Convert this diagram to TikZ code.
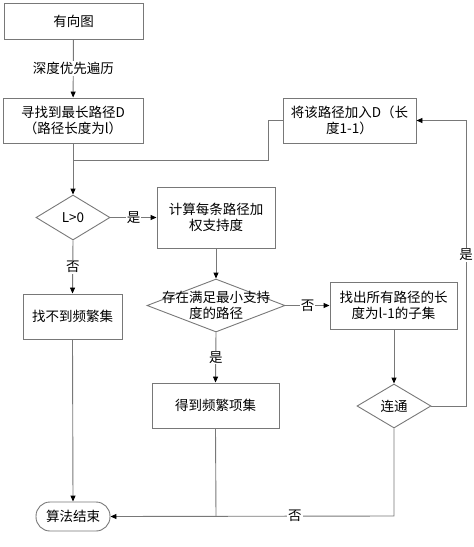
\documentclass[tikz,border=0pt]{standalone}
\usepackage{fontspec}
\newfontfamily\cjk{Noto Sans CJK SC}
\usetikzlibrary{shapes.geometric,arrows.meta}
\definecolor{linecol}{RGB}{120,120,120}
\tikzset{
  every node/.style={font=\cjk\fontsize{13.5}{16}\selectfont},
  box/.style={draw=linecol, line width=0.9pt, rectangle, align=center, inner sep=2pt},
  dia/.style={draw=linecol, line width=0.9pt, diamond, inner sep=0pt},
  endbox/.style={draw=linecol, line width=0.9pt, rectangle, rounded corners=14pt, align=center},
  conn/.style={draw=linecol, line width=0.9pt},
  arr/.style={conn, -{Triangle[length=6pt,width=5pt,color=black]}},
  lab/.style={fill=white, inner sep=1pt}
}
\begin{document}
\begin{tikzpicture}[x=1pt,y=-1pt]
\useasboundingbox (0,0) rectangle (474,547);
\node[box, minimum width=139pt, minimum height=36pt] (n1) at (73.5,21) {有向图};
\node[box, minimum width=140pt, minimum height=45pt] (n2) at (73,120.5) {寻找到最长路径D\\（路径长度为l）};
\node[box, minimum width=133pt, minimum height=45pt] (n3) at (349.5,120.5) {将该路径加入D（长\\度1-1）};
\node[dia, minimum width=74pt, minimum height=45pt] (d1) at (73,217.5) {};
\node at (d1.center) (d1t) {L>0};
\node[box, minimum width=118pt, minimum height=61pt] (c1) at (216,217.5) {计算每条路径加\\权支持度};
\node[dia, minimum width=138pt, minimum height=53pt] (d2) at (216,305.5) {};
\node[align=center] at (d2.center) (d2t) {存在满足最小支持\\度的路径};
\node[box, minimum width=127pt, minimum height=47pt] (b5) at (393.5,305.5) {找出所有路径的长\\度为l-1的子集};
\node[box, minimum width=99pt, minimum height=45pt] (b6) at (72.5,316.5) {找不到频繁集};
\node[box, minimum width=127pt, minimum height=45pt] (b7) at (215.5,405.5) {得到频繁项集};
\node[dia, minimum width=74pt, minimum height=44pt] (d3) at (394,406) {};
\node at (d3.center) (d3t) {连通};
\node[endbox, minimum width=74pt, minimum height=29pt] (e) at (73,516.5) {算法结束};

\coordinate (j1) at (73,160);
\coordinate (j2) at (216,516);

\draw[arr] (n1) -- node[lab] {深度优先遍历} (n2);
\draw[arr] (n2) -- (d1);
\draw[conn] (n3.west) -- ++(-14,0) |- (j1);
\draw[arr] (d1.east) -- node[lab] {是} (c1.west);
\draw[arr] (d1.south) -- node[lab] {否} (b6.north);
\draw[arr] (c1.south) -- (d2.north);
\draw[arr] (d2.east) -- node[lab] {否} (b5.west);
\draw[arr] (d2.south) -- node[lab] {是} (b7.north);
\draw[arr] (b5.south -| d3.north) -- (d3.north);
\draw[arr] (d3.east) -- (466,406) -- node[lab, pos=0.53] {是} (466,120.5) -- (n3.east);
\draw[arr] (d3.south) -- (394,516) -- node[lab, pos=0.35] {否} (e.east);
\draw[conn] (b7.south) -- (j2);
\draw[arr] (b6.south) -- (e.north);
\end{tikzpicture}
\end{document}
